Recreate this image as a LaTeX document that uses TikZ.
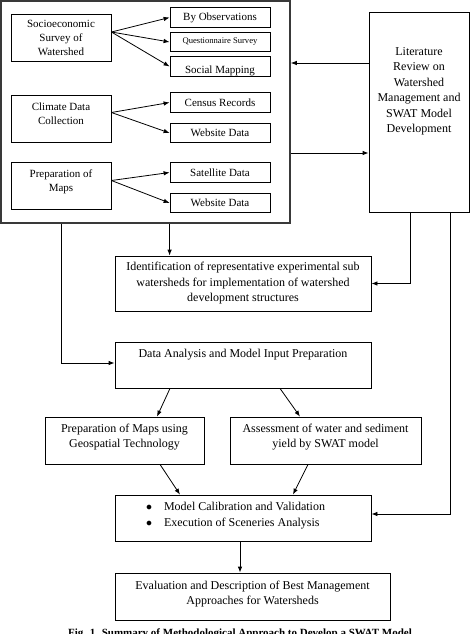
\documentclass[tikz,border=0pt]{standalone}
\usepackage{fontspec}
\setmainfont{Liberation Serif}
\usetikzlibrary{arrows.meta}

\begin{document}
\begin{tikzpicture}[x=1pt,y=-1pt,
  arr/.style={line width=0.8pt,-{Latex[length=6pt,width=4.5pt]}},
  sbox/.style={draw,line width=0.8pt,minimum width=100,minimum height=19.5,inner sep=0pt,font=\fontsize{11}{13}\selectfont},
  lbox/.style={draw,line width=0.8pt,minimum width=100,minimum height=47,inner sep=0pt,align=center,font=\fontsize{11}{14}\selectfont},
  bbox/.style={draw,line width=0.8pt,inner sep=0pt,align=center,font=\fontsize{12}{15.5}\selectfont}]
\useasboundingbox (0,0) rectangle (474,634);
\node[draw=gray!45!black,line width=1.6pt,minimum width=289,minimum height=222,inner sep=0pt] (survey) at (145.5,112) {};
\node[lbox] (socio) at (61,38) {Socioeconomic\\Survey of\\Watershed};
\node[lbox] (climate) at (61,118.5) {Climate Data\\Collection\\[-4pt]};
\node[lbox] (maps) at (61,185.5) {Preparation of\\Maps\\[-4pt]};
\node[sbox] (obs) at (220,17.5) {By Observations};
\node[sbox,font=\fontsize{8.6}{10}\selectfont] (quest) at (220,42) {Questionnaire Survey};
\node[sbox] (mapping) at (220,66.5) {};
\begin{scope}
\clip (mapping.north west) rectangle (mapping.south east);
\node[font=\fontsize{11}{13}\selectfont,anchor=base] (mappingtext) at (220,74) {Social Mapping};
\end{scope}
\node[sbox] (census) at (220,102.5) {Census Records};
\node[sbox] (web1) at (220,133) {Website Data};
\node[sbox] (sat) at (220,172.5) {Satellite Data};
\node[sbox] (web2) at (220,203) {Website Data};
\draw[arr] ([yshift=6pt]socio.east) -- (obs.west);
\draw[arr] ([yshift=6pt]socio.east) -- (quest.west);
\draw[arr] ([yshift=6pt]socio.east) -- (mapping.west);
\draw[arr] ([yshift=6pt]climate.east) -- (census.west);
\draw[arr] ([yshift=6pt]climate.east) -- (web1.west);
\draw[arr] ([yshift=5pt]maps.east) -- (sat.west);
\draw[arr] ([yshift=5pt]maps.east) -- (web2.west);
\node[bbox,minimum width=100,minimum height=200,
  label={[name=littext,align=center,font=\fontsize{12}{15.5}\selectfont,anchor=north,yshift=-32pt]north:{Literature\\Review on\\Watershed\\Management and\\SWAT Model\\Development}}] (lit) at (419,112) {};
\draw[arr] ([yshift=49pt]lit.west) -- ([yshift=49pt]lit.west -| survey.east);
\draw[arr] ([yshift=-41pt]lit.west -| survey.east) -- ([yshift=-41pt]lit.west);
\node[bbox,minimum width=256,minimum height=55] (ident) at (243,283.5) {Identification of representative experimental sub\\watersheds for implementation of watershed\\development structures};
\node[bbox,minimum width=256,text height=12pt,text depth=28pt,inner ysep=3pt] (data) at (243,365) {Data Analysis and Model Input Preparation};
\node[bbox,minimum width=159,minimum height=47] (geo) at (124.5,440.5) {Preparation of Maps using\\Geospatial Technology\\[-6.5pt]};
\node[bbox,minimum width=191,minimum height=47] (swat) at (325.5,440.5) {Assessment of water and sediment\\yield by SWAT model\\[-6.5pt]};
\node[bbox,minimum width=256,minimum height=46] (calib) at (243,518) {\begin{tabular}{@{}l@{\hspace{12pt}}l@{\hspace{15pt}}}$\bullet$&Model Calibration and Validation\\$\bullet$&Execution of Sceneries Analysis\end{tabular}\\[2pt]};
\node[bbox,minimum width=275,minimum height=47] (eval) at (252.5,596.5) {Evaluation and Description of Best Management\\Approaches for Watersheds\\[-8.5pt]};
\node[font=\bfseries\fontsize{11}{13}\selectfont,anchor=base] (caption) at (240,636.5) {Fig. 1. Summary of Methodological Approach to Develop a SWAT Model};
\draw[arr] (obs.west |- survey.south) -- (obs.west |- ident.north);
\draw[arr] (socio.south |- survey.south) |- ([yshift=2pt]data.west);
\draw[arr] ([xshift=-9pt]lit.south) |- (ident.east);
\draw[arr] ([xshift=31pt]lit.south) |- ([yshift=4pt]calib.east);
\draw[arr] ([xshift=-73pt]data.south) -- ([xshift=32.5pt]geo.north);
\draw[arr] ([xshift=37pt]data.south) -- ([xshift=-25.5pt]swat.north);
\draw[arr] ([xshift=35.5pt]geo.south) -- ([xshift=-63pt]calib.north);
\draw[arr] ([xshift=-17.5pt]swat.south) -- ([xshift=50pt]calib.north);
\draw[arr] ([xshift=-3pt]calib.south) -- ([xshift=-3pt]calib.south |- eval.north);
\end{tikzpicture}
\end{document}
